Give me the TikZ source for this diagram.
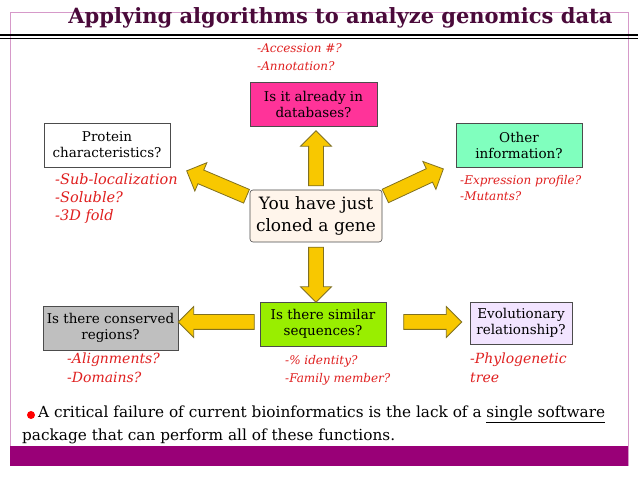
\documentclass[tikz,border=0pt]{standalone}
\usepackage{fontspec}
\setmainfont{DejaVu Serif}
\usetikzlibrary{shapes.arrows}
\definecolor{ttl}{HTML}{4A0A3A}
\definecolor{redt}{HTML}{E02020}
\definecolor{plum}{HTML}{990077}
\definecolor{arrowy}{HTML}{F8C800}
\definecolor{arrowo}{HTML}{807020}
\tikzset{
 box/.style={draw=black!70, line width=0.6pt, align=center, font=\fontsize{13.5}{16}\selectfont, inner sep=2pt},
 fat/.style={single arrow, draw=arrowo, fill=arrowy, line width=0.8pt, minimum width=30pt, single arrow head extend=8pt, single arrow head indent=0pt, text height=0pt, text depth=0pt, inner xsep=0pt, inner ysep=7pt},
 note/.style={text=redt, anchor=north west, align=left, inner sep=0pt}
}
\begin{document}
\begin{tikzpicture}[x=1pt,y=-1pt]
\useasboundingbox (0,0) rectangle (638,478);
\fill[white] (0,0) rectangle (638,478);
\draw[plum!40, line width=0.6pt] (10,12) rectangle (628,465);
\fill[plum] (10,446) rectangle (628,466);
\draw[black, line width=1.5pt] (0,35) -- (638,35);
\draw[black, line width=0.6pt] (0,38.5) -- (638,38.5);
\node[text=ttl, font=\bfseries\fontsize{21}{24}\selectfont, anchor=east] (title) at (616,18) {Applying algorithms to analyze genomics data};

\node[box, rounded corners=3pt, fill=orange!8, minimum width=132pt, minimum height=52pt, font=\fontsize{17}{22}\selectfont] (c) at (316,216) {You have just\\cloned a gene};
\node[box, fill={rgb,255:red,255;green,51;blue,153}, minimum width=127pt, minimum height=44pt] (t) at (313.5,104) {Is it already in\\databases?};
\node[box, fill=white, minimum width=126pt, minimum height=44pt] (pl) at (107,145) {Protein\\characteristics?};
\node[box, fill={rgb,255:red,128;green,255;blue,190}, minimum width=126pt, minimum height=44pt] (or) at (519,145) {Other\\information?};
\node[box, fill={rgb,255:red,153;green,238;blue,0}, minimum width=126pt, minimum height=44pt] (bs) at (323,324) {Is there similar\\sequences?};
\node[box, fill=black!25, minimum width=135pt, minimum height=44pt] (bl) at (110.5,328) {Is there conserved\\regions?};
\node[box, fill={rgb,255:red,242;green,228;blue,255}, minimum width=102pt, minimum height=42pt] (br) at (521,323) {Evolutionary\\relationship?};

\node[fat, minimum height=55pt, rotate=90] (a1) at (316,162) {};
\node[fat, minimum height=55pt, rotate=-90] (a2) at (316,271) {};
\node[fat, minimum height=65pt, rotate=157] (a3) at (220,185) {};
\node[fat, minimum height=64pt, rotate=25] (a4) at (411,184) {};
\node[fat, minimum height=76pt, rotate=180] (a5) at (220,322) {};
\node[fat, minimum height=58pt, rotate=0] (a6) at (429,322) {};

\node[note, font=\itshape\fontsize{12}{18}\selectfont] (n1) at (257,43) {-Accession \#?\\-Annotation?};
\node[note, font=\itshape\fontsize{14.5}{18}\selectfont] (n2) at (55,173) {-Sub-localization\\-Soluble?\\-3D fold};
\node[note, font=\itshape\fontsize{12}{16}\selectfont] (n3) at (460,175) {-Expression profile?\\-Mutants?};
\node[note, font=\itshape\fontsize{14}{19}\selectfont] (n4) at (67,353) {-Alignments?\\-Domains?};
\node[note, font=\itshape\fontsize{12}{18}\selectfont] (n5) at (285,355) {-\% identity?\\-Family member?};
\node[note, font=\itshape\fontsize{14}{19}\selectfont] (n6) at (470,353) {-Phylogenetic\\tree};

\fill[red] (31,415) circle (4pt);
\node[anchor=west, inner sep=0pt, font=\fontsize{15.3}{20}\selectfont] (b1) at (38,414) {A critical failure of current bioinformatics is the lack of a \underline{single software}};
\node[anchor=west, inner sep=0pt, font=\fontsize{15.3}{20}\selectfont] (b2) at (22,436) {package that can perform all of these functions.};
\end{tikzpicture}
\end{document}
